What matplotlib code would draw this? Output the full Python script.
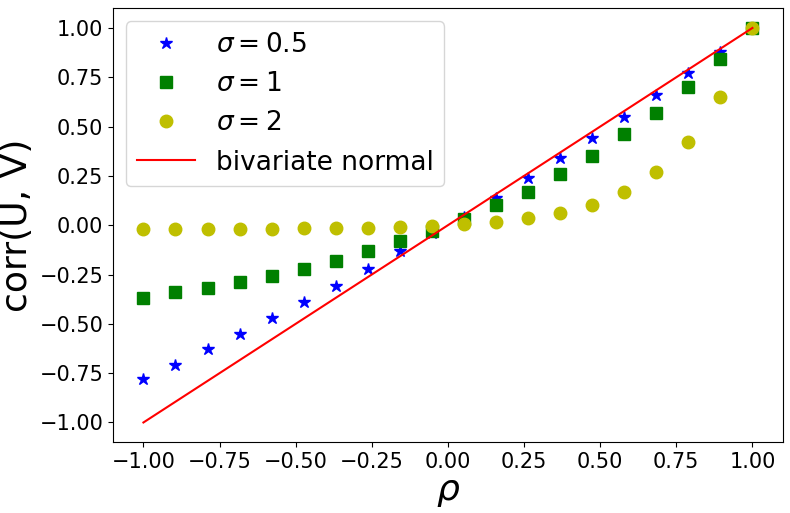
import numpy as np
from matplotlib import pyplot as plt

rho = [-1.0, -0.895, -0.789, -0.684, -0.579, -0.474, -0.368, -0.263, -0.158, -0.053,
       0.053, 0.158, 0.263, 0.368, 0.474, 0.579, 0.684, 0.789, 0.895, 1.0]
corr_s05 = [-0.78, -0.71, -0.63, -0.55, -0.47, -0.39, -0.31, -0.22, -0.13, -0.04,
            0.04, 0.14, 0.24, 0.34, 0.44, 0.55, 0.66, 0.77, 0.88, 1.0]
corr_s1 = [-0.37, -0.34, -0.32, -0.29, -0.26, -0.22, -0.18, -0.13, -0.08, -0.03,
           0.03, 0.10, 0.17, 0.26, 0.35, 0.46, 0.57, 0.70, 0.84, 1.0]
corr_s2 = [-0.02, -0.02, -0.02, -0.02, -0.02, -0.015, -0.013, -0.012, -0.01, -0.005,
           0.005, 0.015, 0.035, 0.06, 0.10, 0.17, 0.27, 0.42, 0.65, 1.0]
normal_x = [-1.0, 1.0]

fig = plt.figure(figsize=(7.9, 5.13), dpi=100)
ax = fig.add_axes([0.143, 0.138, 0.848, 0.846])

ax.plot(rho, corr_s05, 'b*', markersize=9, label=r'$\sigma=0.5$')
ax.plot(rho, corr_s1, 'gs', markersize=8, label=r'$\sigma=1$')
ax.plot(rho, corr_s2, 'o', color='y', markersize=9, label=r'$\sigma=2$')
ax.plot(normal_x, normal_x, 'r-', linewidth=1.5, label='bivariate normal')

ax.set_xlabel(r'$\rho$', fontsize=26, labelpad=2)
ax.set_ylabel('corr(U, V)', fontsize=26, labelpad=4)
ax.tick_params(labelsize=15)
ax.set_xticks(np.arange(-1, 1.01, 0.25))
ax.set_yticks(np.arange(-1, 1.01, 0.25))
ax.legend(fontsize=19, loc='upper left', handlelength=2.2)

plt.savefig('out.png')
